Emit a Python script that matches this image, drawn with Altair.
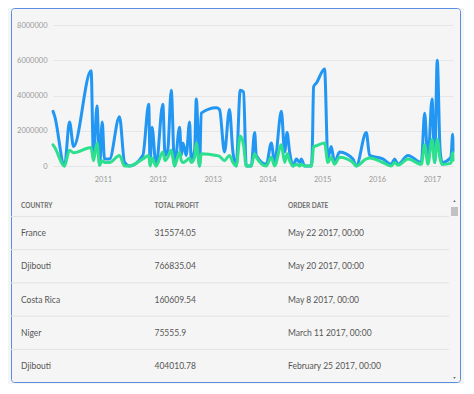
import altair as alt
import pandas as pd

# ---- line chart data (values in millions) ----
dates = [
    "2010-02-02", "2010-02-14", "2010-04-20", "2010-05-23", "2010-06-19", "2010-10-14",
    "2010-10-30", "2010-11-22", "2010-12-10", "2010-12-27", "2011-01-11", "2011-02-14",
    "2011-04-21", "2011-05-25", "2011-06-27", "2011-09-24", "2011-11-02", "2011-11-11",
    "2011-11-24", "2011-12-21", "2012-02-04", "2012-02-19", "2012-03-08", "2012-03-31",
    "2012-04-22", "2012-05-26", "2012-06-06", "2012-06-17", "2012-07-09", "2012-07-31",
    "2012-08-11", "2012-09-03", "2012-09-14", "2012-10-06", "2012-10-17", "2013-01-25",
    "2013-02-16", "2013-03-21", "2013-04-23", "2013-05-16", "2013-06-07", "2013-07-04",
    "2013-07-26", "2013-08-13", "2013-09-15", "2013-10-08", "2013-10-19", "2013-12-25",
    "2014-01-27", "2014-02-18", "2014-04-04", "2014-04-26", "2014-05-12", "2014-05-29",
    "2014-06-21", "2014-07-13", "2014-08-04", "2014-08-15", "2014-09-06", "2014-10-21",
    "2014-10-27", "2014-11-05", "2014-11-23", "2015-01-17", "2015-02-08", "2015-03-02",
    "2015-03-25", "2015-04-27", "2015-07-25", "2015-08-16", "2015-10-22", "2015-11-13",
    "2016-02-09", "2016-04-06", "2016-04-28", "2016-05-20", "2016-07-26", "2016-10-23",
    "2016-11-14", "2016-12-06", "2017-01-02", "2017-01-20", "2017-02-06", "2017-02-25",
    "2017-03-11", "2017-05-08", "2017-05-20", "2017-05-22",
]
revenue_m = [
    3.1, 2.8, 0.0, 2.5, 1.1, 5.4,
    0.4, 3.4, 0.05, 2.5, 0.4, 0.4,
    2.8, 0.2, 0.0, 0.6, 3.5, 0.2,
    2.2, 0.0, 3.5, 0.6, 0.9, 4.3,
    0.0, 2.2, 0.6, 1.3, 0.6, 2.5,
    0.4, 0.9, 3.8, 0.0, 3.0, 3.3,
    3.2, 0.8, 3.2, 0.8, 0.0, 4.3,
    4.2, 0.0, 0.0, 1.9, 0.6, 0.1,
    1.3, 0.2, 3.1, 0.8, 1.9, 0.8,
    0.0, 0.4, 0.2, 0.4, 0.0, 0.0,
    0.9, 4.5, 4.7, 5.5, 0.4, 1.1,
    0.2, 0.8, 0.4, 0.0, 1.9, 0.6,
    0.4, 0.1, 0.4, 0.1, 0.6, 0.2,
    3.0, 0.2, 3.8, 0.2, 6.0, 0.9,
    0.2, 0.5, 1.8, 0.8,
]
profit_m = [
    1.2, 1.05, 0.0, 0.9, 0.75, 1.05,
    0.3, 1.3, 0.05, 0.3, 0.2, 0.2,
    0.6, 0.0, 0.0, 0.4, 0.6, 0.0,
    0.45, 0.0, 0.8, 0.3, 0.5, 0.9,
    0.0, 0.8, 0.3, 0.2, 0.3, 0.45,
    0.2, 0.5, 1.3, 0.0, 0.7, 0.6,
    0.55, 0.3, 0.6, 0.2, 0.0, 1.7,
    1.2, 0.0, 0.0, 0.7, 0.5, 0.0,
    0.5, 0.0, 1.2, 0.2, 0.7, 0.3,
    0.0, 0.1, 0.0, 0.1, 0.0, 0.0,
    0.3, 1.1, 1.15, 1.3, 0.2, 0.5,
    0.1, 0.5, 0.2, 0.0, 0.4, 0.45,
    0.2, 0.0, 0.2, 0.05, 0.4, 0.1,
    1.2, 0.1, 1.5, 0.2, 1.5, 0.4,
    0.08, 0.16, 0.77, 0.32,
]
y_ticks = [0, 2000000, 4000000, 6000000, 8000000]

# ---- table data ----
headers = ["COUNTRY", "TOTAL PROFIT", "ORDER DATE"]
countries = ["France", "Djibouti", "Costa Rica", "Niger", "Djibouti"]
profits_tbl = ["315574.05", "766835.04", "160609.54", "75555.9", "404010.78"]
order_dates = ["May 22 2017, 00:00", "May 20 2017, 00:00", "May 8 2017, 00:00",
               "March 11 2017, 00:00", "February 25 2017, 00:00"]

BLUE = "#2196f3"
GREEN = "#2de08e"
FONT = "Lato"

line_df = pd.DataFrame({
    "date": dates,
    "revenue": [v * 1e6 for v in revenue_m],
    "profit": [v * 1e6 for v in profit_m],
})

x_scale = alt.Scale(range=[42, 442], nice=False)
y_scale = alt.Scale(domain=[0, 8000000], range=[158, 17], nice=False)

line_kw = dict(strokeWidth=3, interpolate="monotone", strokeCap="round", strokeJoin="round")

blue = alt.Chart(line_df).mark_line(color=BLUE, **line_kw).encode(
    x=alt.X("date:T", scale=x_scale,
            axis=alt.Axis(format="%Y", tickCount="year", orient="bottom", offset=-216,
                          domain=False, ticks=False, grid=False, labelPadding=9,
                          labelColor="#9a9a9a", labelFontSize=7.5, labelFont=FONT, title=None)),
    y=alt.Y("revenue:Q", scale=y_scale,
            axis=alt.Axis(values=y_ticks, format="d", orient="left", offset=-42,
                          domain=False, ticks=False, grid=True, gridColor="#e6e6e6",
                          labelPadding=6, labelColor="#9a9a9a", labelFontSize=7.5,
                          labelFont=FONT, title=None)),
)
green = alt.Chart(line_df).mark_line(color=GREEN, **line_kw).encode(
    x=alt.X("date:T", scale=x_scale, axis=None),
    y=alt.Y("profit:Q", scale=y_scale, axis=None),
)

# table
rows = []
for i, vals in enumerate(zip(countries, profits_tbl, order_dates)):
    for j, t in enumerate(vals):
        rows.append({"row": i + 1, "col": j, "text": t})
tbl_df = pd.DataFrame(rows)
hdr_df = pd.DataFrame({"col": list(range(len(headers))), "text": headers})
sep_df = pd.DataFrame({"sep": [r - 0.5 for r in range(1, len(countries) + 1)]})

col_scale = alt.Scale(domain=[0, 2], range=[10, 277], nice=False, zero=False)
row_scale = alt.Scale(domain=[1, 5], range=[225, 358], nice=False, zero=False)

seps = alt.Chart(sep_df).mark_rule(color="#e2e2e2", strokeWidth=1).encode(
    y=alt.Y("sep:Q", scale=row_scale, axis=None),
    x=alt.value(0), x2=alt.value(438),
)
cells = alt.Chart(tbl_df).mark_text(align="left", baseline="middle", font=FONT,
                                    fontSize=8.5, color="#555555").encode(
    x=alt.X("col:Q", scale=col_scale, axis=None),
    y=alt.Y("row:Q", scale=row_scale, axis=None),
    text="text:N",
)
hdr = alt.Chart(hdr_df).mark_text(align="left", baseline="middle", font=FONT,
                                  fontSize=6.5, fontWeight="bold", color="#6f6f6f").encode(
    x=alt.X("col:Q", scale=col_scale, axis=None),
    y=alt.value(198),
    text="text:N",
)

dummy = pd.DataFrame({"a": [0]})
thumb = alt.Chart(dummy).mark_rect(color="#c1c1c1").encode(
    x=alt.value(440), x2=alt.value(447), y=alt.value(199), y2=alt.value(208))
up = alt.Chart(dummy).mark_point(shape="triangle-up", filled=True, color="#666", size=6, opacity=1).encode(
    x=alt.value(443.5), y=alt.value(193))
down = alt.Chart(dummy).mark_point(shape="triangle-down", filled=True, color="#666", size=6, opacity=1).encode(
    x=alt.value(443.5), y=alt.value(370))

chart = alt.layer(seps, cells, hdr, thumb, up, down, blue, green).resolve_scale(
    x="independent", y="independent"
).properties(
    width=449, height=374,
    padding={"left": 3, "top": 0, "right": 4, "bottom": 2},
    autosize=alt.AutoSizeParams(type="none"),
    background="#f5f5f5",
).configure_view(
    stroke="#5b8ee0", strokeWidth=1, cornerRadius=3, fill="#f5f5f5"
)

chart.save("out.html", embed_options={"renderer": "svg", "actions": False})
